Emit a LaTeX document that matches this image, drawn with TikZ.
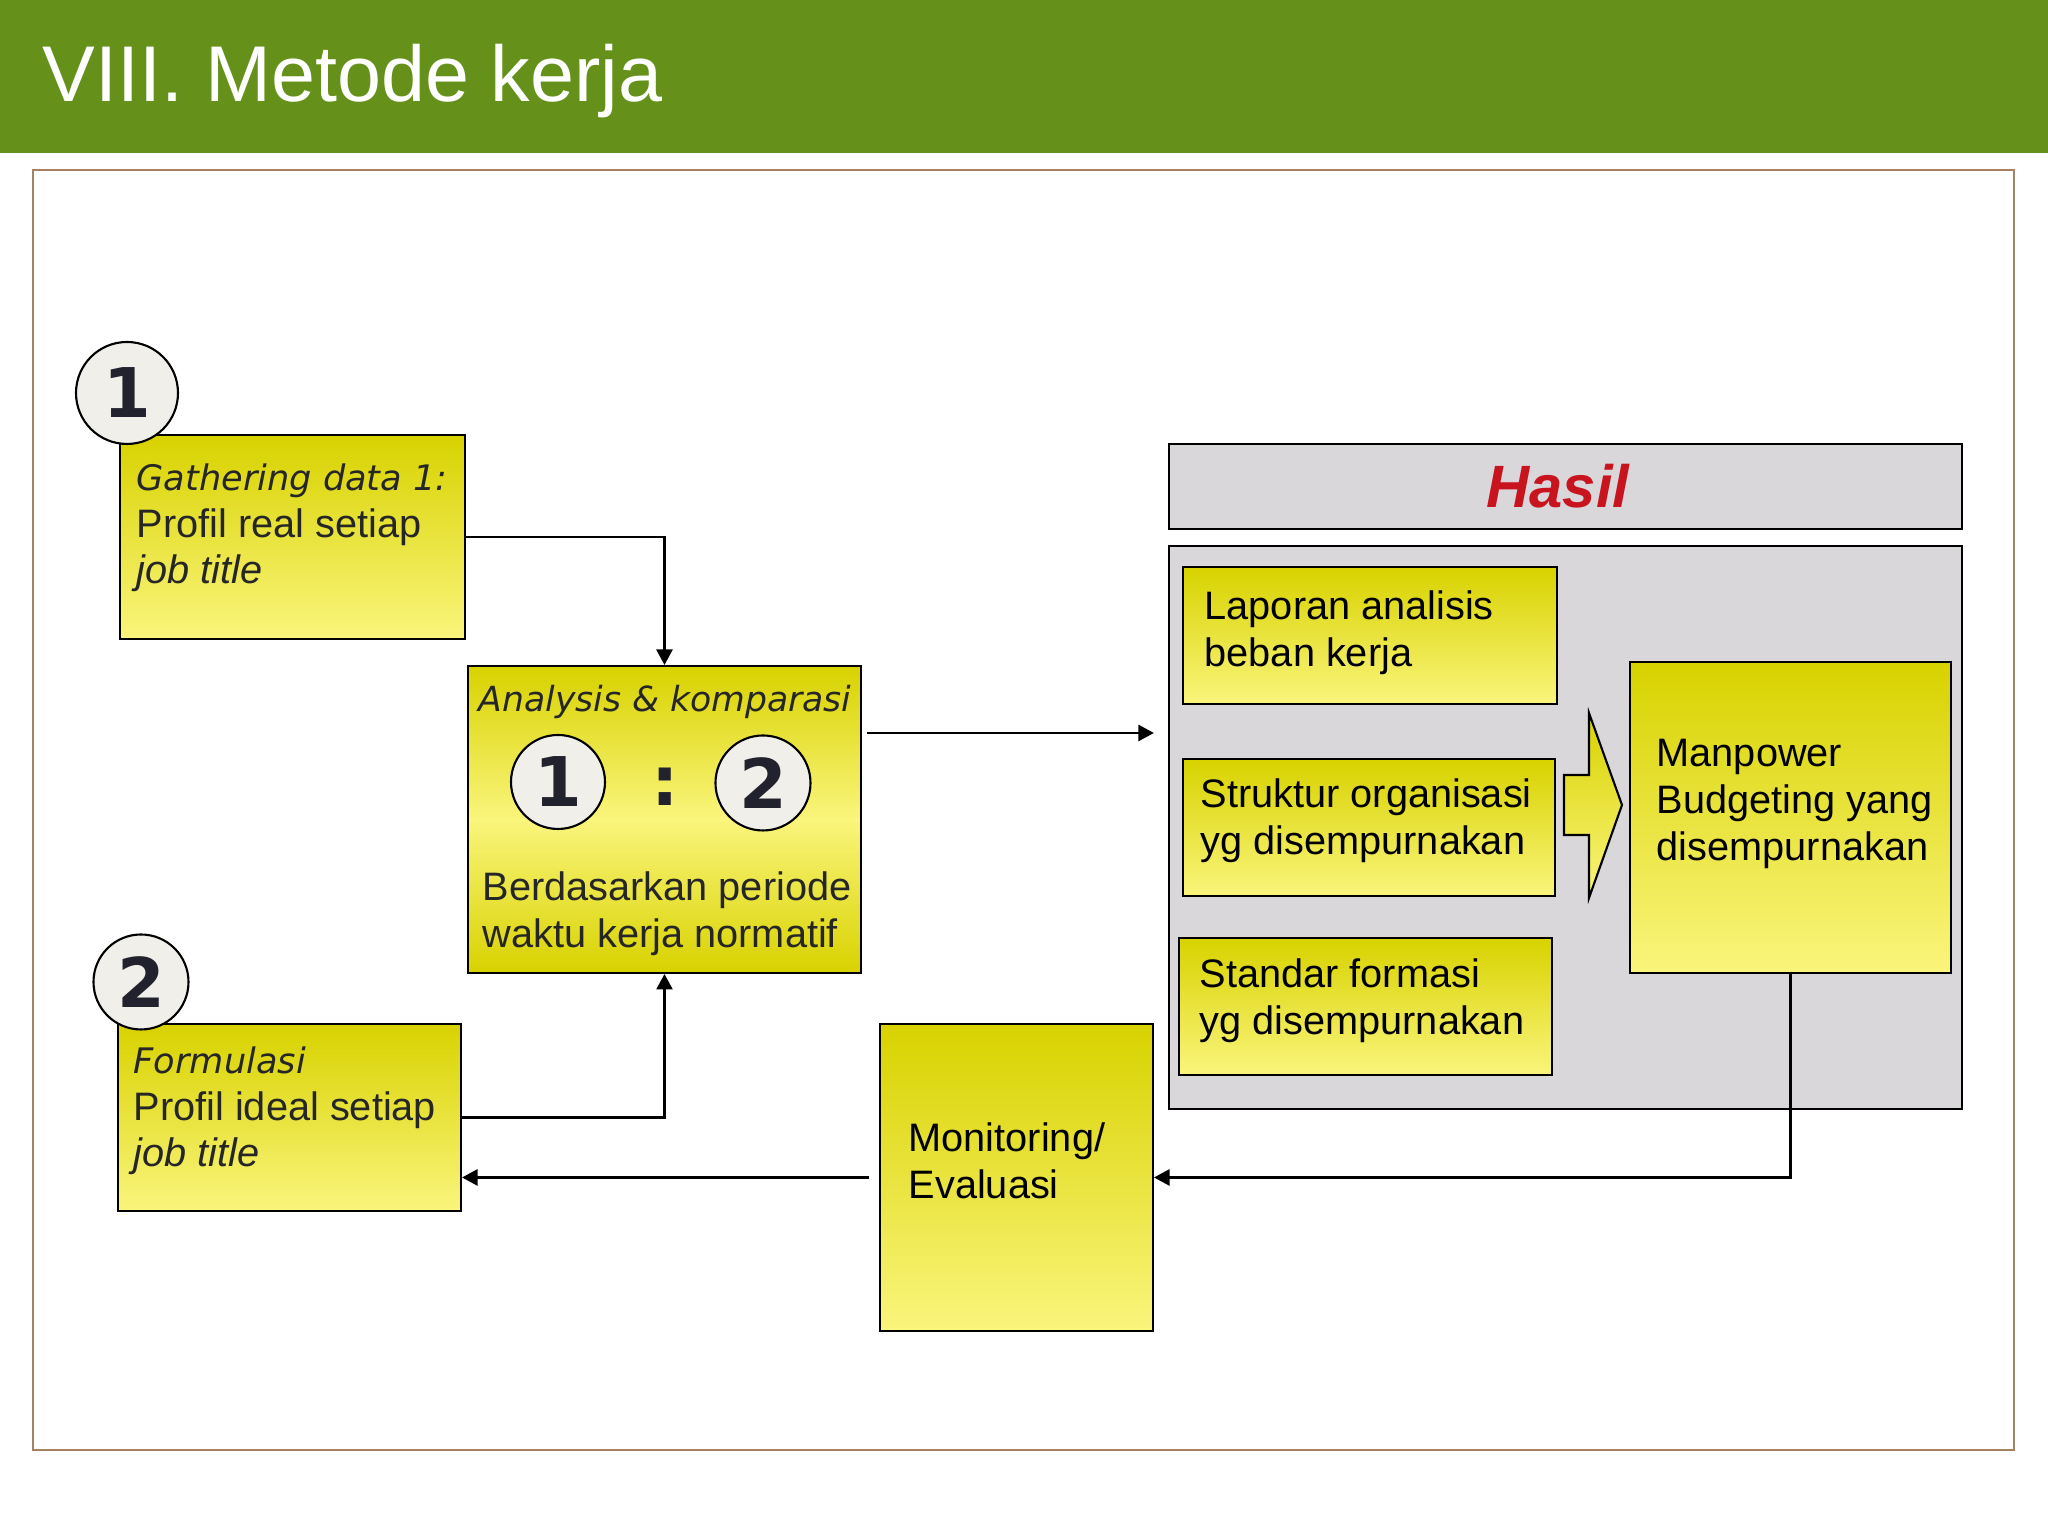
\documentclass[tikz,border=0pt]{standalone}
\usepackage{fontspec}
\setmainfont{Liberation Sans}
\newfontfamily\verdfont{DejaVu Sans}
\usepackage{xcolor}
\usetikzlibrary{arrows.meta, positioning}
\definecolor{hdrgreen}{HTML}{65911A}
\definecolor{framebrown}{HTML}{A58262}
\definecolor{ytop}{HTML}{D8D200}
\definecolor{ybot}{HTML}{FAF57C}
\definecolor{panelgray}{HTML}{D9D7DA}
\definecolor{numfill}{HTML}{F0EFE9}
\definecolor{numdark}{HTML}{22222E}
\definecolor{txtdark}{HTML}{262626}
\definecolor{hasilred}{HTML}{C8141E}

\begin{document}
\begin{tikzpicture}[
  font=\fontsize{11.3}{13.3}\selectfont,
  ybox/.style={draw=black, line width=0.6pt, top color=ytop, bottom color=ybot, inner sep=0pt},
  abox/.style={ybox, top color=ytop, bottom color=ytop, middle color=ybot},
  gbox/.style={draw=black, line width=0.6pt, fill=panelgray, inner sep=0pt},
  txt/.style={anchor=west, align=left, inner sep=0pt, text=txtdark},
  vtxt/.style={font=\verdfont\itshape\fontsize{9.85}{13.3}\selectfont},
  num/.style={circle, draw=black, line width=0.6pt, fill=numfill, inner sep=0pt,
              font=\verdfont\bfseries\fontsize{19.5}{19.5}\selectfont, text=numdark},
  arr/.style={-{Triangle[length=4.4pt,width=4.6pt]}, line width=0.6pt}
]
\useasboundingbox (0,0) rectangle (20.48,15.36);
\fill[white] (0,0) rectangle (20.48,15.36);

% header
\fill[hdrgreen] (0,13.83) rectangle (20.48,15.36);
\node[anchor=base west, inner sep=0pt, text=white, font=\fontsize{22.5}{27}\selectfont]
  (title) at (0.42,14.34) {VIII. Metode kerja};
\draw[framebrown, line width=0.6pt] (0.33,0.86) rectangle (20.14,13.66);

% hasil panel
\node[gbox, minimum width=7.93cm, minimum height=0.85cm] (hasil) at (15.655,10.495) {};
\node[text=hasilred, font=\fontsize{17}{20}\selectfont\bfseries\itshape] (hasiltxt)
  at (15.58,10.50) {Hasil};
\node[gbox, minimum width=7.93cm, minimum height=5.63cm] (panel) at (15.655,7.085) {};

% left lane
\node[ybox, minimum width=3.45cm, minimum height=2.04cm] (gather) at (2.925,9.99) {};
\node[ybox, minimum width=3.43cm, minimum height=1.87cm] (formul) at (2.895,4.185) {};
\node[abox, minimum width=3.93cm, minimum height=3.07cm] (analysis) at (6.645,7.165) {};
\node[ybox, minimum width=2.73cm, minimum height=3.07cm] (monit) at (10.165,3.585) {};

% results
\node[ybox, minimum width=3.74cm, minimum height=1.37cm] (lapor) at (13.70,9.005) {};
\node[ybox, minimum width=3.72cm, minimum height=1.37cm] (struk) at (13.69,7.085) {};
\node[ybox, minimum width=3.73cm, minimum height=1.37cm] (stand) at (13.655,5.295) {};
\node[ybox, minimum width=3.21cm, minimum height=3.11cm] (manp) at (17.905,7.185) {};
\draw[line width=0.6pt, top color=ytop, bottom color=ybot]
  (15.64,7.61) -- (15.89,7.61) -- (15.89,8.23) -- (16.22,7.31)
  -- (15.89,6.38) -- (15.89,7.01) -- (15.64,7.01) -- cycle;

% texts
\node[txt] (gathertxt) at (1.36,10.08)
  {{\verdfont\itshape\fontsize{10}{13.3}\selectfont Gathering data 1:}\\ Profil real setiap\\ \textit{job title}};
\node[txt] (formultxt) at (1.33,4.25)
  {{\verdfont\itshape\fontsize{10}{13.3}\selectfont Formulasi}\\ Profil ideal setiap\\ \textit{job title}};
\node[txt, vtxt] (anatitle) at (4.78,8.34) {Analysis \& komparasi};
\node[txt] (anatxt) at (4.82,6.22) {Berdasarkan periode\\ waktu kerja normatif};
\node[txt, text=black] (monittxt) at (9.08,3.75) {Monitoring/\\ Evaluasi};
\node[txt, text=black] (laportxt) at (12.04,9.03) {Laporan analisis\\ beban kerja};
\node[txt, text=black] (struktxt) at (12.00,7.15) {Struktur organisasi\\ yg disempurnakan};
\node[txt, text=black] (standtxt) at (11.99,5.35) {Standar formasi\\ yg disempurnakan};
\node[txt, text=black] (manptxt) at (16.56,7.32) {Manpower\\ Budgeting yang\\ disempurnakan};

% numbers
\node[num, minimum size=0.94cm] (anaone) at (5.58,7.54) {1};
\node[num, minimum size=0.95cm] (anatwo) at (7.63,7.53) {2};
\node[anchor=base, inner sep=0pt, text=numdark, font=\verdfont\bfseries\fontsize{19.5}{19.5}\selectfont]
  (colon) at (6.65,7.30) {:};
\node[num, minimum size=1.02cm] (numone) at (1.27,11.43) {1};
\node[num, minimum size=0.95cm] (numtwo) at (1.41,5.54) {2};

% connectors
\draw[arr] (gather.east) -| (analysis.north);
\draw[arr] (formul.east) -| (analysis.south);
\coordinate (anaout) at ([yshift=0.865cm]analysis.east);
\draw[arr, shorten <=1.5pt, shorten >=4pt] (anaout) -- (anaout -| panel.west);
\draw[arr] (manp.south) |- (monit.east);
\draw[arr, shorten <=2.8pt] (monit.west) -- (monit.west -| formul.east);
\end{tikzpicture}
\end{document}
